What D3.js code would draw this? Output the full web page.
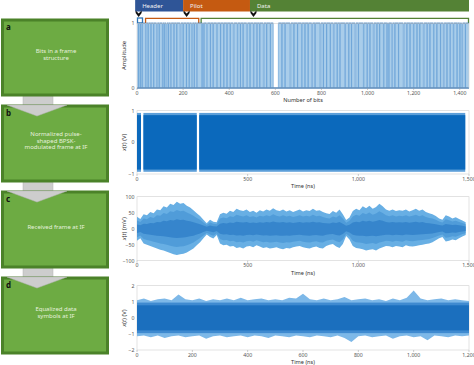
<!DOCTYPE html>
<html><head><meta charset="utf-8">
<script src="https://cdn.jsdelivr.net/npm/d3@7"></script>
<style>body{margin:0;background:#fff}svg{display:block;font-family:"Noto Sans",sans-serif}</style>
</head><body>
<script>
// ---------- DATA ----------
const stepLetters = ["a","b","c","d"];
const stepTexts = [["Bits in a frame","structure"],["Normalized pulse-","shaped BPSK-","modulated frame at IF"],["Received frame at IF"],["Equalized data","symbols at IF"]];

const bannerLabels = ["Header","Pilot","Data"];
const bannerBits = [-8, 200, 490, 1440];      // banner boundaries in bit units
const bracketBits = [[0,26],[35,270],[276,1440]];

const nBits = 1440;
const aWhiteRuns = [[37,3],[85,3],[110,2],[126,3],[146,2],[187,3],[237,3],[259,2],[302,3],[346,2],[418,3],[435,2],[476,3],[505,2],[548,3],[591,22],[664,3],[714,2],[758,3],[794,3],[852,3],[902,2],[946,3],[982,2],[1025,3],[1069,2],[1105,3],[1155,3],[1199,2],[1242,3],[1286,2],[1329,3],[1372,2],[1409,3]];
const aSingleZeros = [6,14,22,48,60,72,96,118,136,160,172,200,214,226,248,282,290,318,330,362,376,390,404,448,460,490,520,532,562,578,628,642,680,696,728,742,772,808,822,838,868,880,918,930,960,998,1010,1040,1052,1084,1092,1118,1134,1170,1184,1214,1226,1258,1270,1300,1316,1344,1358,1388,1400,1424];
const aTicks = [0,200,400,600,800,1000,1200,1400];

const bSegments = [[0,18],[29,270],[281,1483]];
const bCore = 0.86, bPeak = 0.93;
const bTicks = [0,500,1000,1500];

const cTime  = d3.range(0,1486,15);
const cUpper = [37,30,45,42,52,48,60,58,70,66, 78,74,84,78,80,72,66,58,48,40, 28,17,28,22,20,45,50,47,56,52, 62,58,55,60,52,56,50,58,54,60,
                56,64,58,55,60,54,58,52,56,60, 54,58,55,62,56,58,52,48,46,55, 50,60,45,27,35,55,62,58,70,64, 72,62,68,78,70,60,56,60,55,58,
                56,60,54,58,62,56,60,52,48,45, 40,32,28,42,38,32,36,30,26,20];
const cLower = [-38,-30,-46,-50,-54,-58,-62,-66,-68,-72, -76,-80,-82,-80,-78,-74,-68,-62,-52,-42, -30,-18,-26,-31,-20,-46,-52,-50,-56,-54,
                -60,-58,-62,-56,-54,-58,-52,-56,-60,-58, -62,-60,-58,-62,-64,-60,-62,-58,-56,-54, -58,-60,-62,-58,-56,-60,-62,-54,-50,-48,
                -56,-60,-48,-23,-34,-54,-60,-62,-64,-68, -66,-64,-68,-62,-58,-54,-55,-58,-54,-56, -58,-52,-55,-56,-54,-52,-50,-48,-46,-42,
                -36,-30,-26,-40,-38,-34,-36,-30,-24,-20];
const cTicksY = [-100,-50,0,50,100];

const dTime = d3.range(0,1201,25);
const dUpper = [1.1,1.2,1.05,1.15,1.2,1.1,1.45,1.15,1.1,1.2,1.05,1.15,1.1,1.2,1.1,1.25,1.1,1.15,1.2,1.1,1.15,1.1,1.25,1.2,1.5,1.15,1.1,1.2,1.1,1.15,1.3,1.1,1.15,1.2,1.1,1.15,1.05,1.2,1.1,1.25,1.7,1.2,1.1,1.15,1.2,1.1,1.15,1.1,1.05];
const dLower = [-1.15,-1.1,-1.2,-1.1,-1.25,-1.15,-1.1,-1.2,-1.15,-1.1,-1.3,-1.15,-1.1,-1.2,-1.15,-1.1,-1.2,-1.1,-1.15,-1.25,-1.1,-1.15,-1.2,-1.1,-1.15,-1.2,-1.1,-1.15,-1.2,-1.1,-1.25,-1.5,-1.15,-1.1,-1.2,-1.15,-1.1,-1.3,-1.15,-1.1,-1.2,-1.15,-1.4,-1.1,-1.15,-1.2,-1.1,-1.15,-1.1];
const dCore = 0.78, dMid = 0.95;
const dTicksX = [0,200,400,600,800,1000,1200];
const dTicksY = [-2,-1,0,1,2];

// ---------- LAYOUT ----------
const W=474,H=365, X0=137, X1=469;
const svg = d3.select("body").append("svg").attr("width",W).attr("height",H);
const fmt = d3.format(",");
const tickCol="#555", frameCol="#d0d0d0";

// left process boxes
const boxTops=[20,106,192,278], boxH=75;
boxTops.forEach((t,i)=>{
  if(i>0){
    const pb = boxTops[i-1]+boxH;
    svg.append("rect").attr("x",23).attr("y",pb).attr("width",30).attr("height",t-pb+1).attr("fill","#cdcdcd").attr("stroke","#b5b5b5").attr("stroke-width",0.5);
  }
});
boxTops.forEach((t,i)=>{
  svg.append("rect").attr("x",2.5).attr("y",t).attr("width",105).attr("height",boxH)
    .attr("fill","#6dab43").attr("stroke","#4b8229").attr("stroke-width",3);
  if(i>0){
    svg.append("path").attr("d",`M7,${t-1}L67,${t-1}L37,${t+10}Z`).attr("fill","#cdcdcd").attr("stroke","#b5b5b5").attr("stroke-width",0.5);
  }
  svg.append("text").attr("x",6).attr("y",t+10).attr("font-size",8).attr("font-weight","bold").attr("fill","#111").text(stepLetters[i]);
  const lines = stepTexts[i], lh=6.8, cy=t+boxH/2-3;
  lines.forEach((s,j)=>{
    svg.append("text").attr("x",56).attr("y",cy+(j-(lines.length-1)/2)*lh+2).attr("text-anchor","middle")
      .attr("font-size",6).attr("fill","#e6f1de").text(s);
  });
});

function yLabel(y, parts){
  const t = svg.append("text").attr("transform",`translate(126,${y}) rotate(-90)`).attr("text-anchor","middle").attr("font-size",6).attr("fill","#333");
  parts.forEach(p=>t.append("tspan").attr("font-style",p[1]?"italic":"normal").text(p[0]));
}
function axes(x, y, xt, yt, yTop, yBot, xlab){
  svg.append("rect").attr("x",X0).attr("y",yTop).attr("width",X1-X0).attr("height",yBot-yTop).attr("fill","none").attr("stroke",frameCol).attr("stroke-width",0.6);
  xt.forEach(v=>{
    svg.append("line").attr("x1",x(v)).attr("x2",x(v)).attr("y1",yBot).attr("y2",yBot+2).attr("stroke","#999").attr("stroke-width",0.5);
    svg.append("text").attr("x",x(v)).attr("y",yBot+6.6).attr("text-anchor","middle").attr("font-size",5.2).attr("fill",tickCol).text(fmt(v));
  });
  yt.forEach(v=>{
    svg.append("text").attr("x",134.5).attr("y",y(v)+2).attr("text-anchor","end").attr("font-size",5.2).attr("fill",tickCol).text(d3.format("")(v).replace("-","\u2212"));
  });
  svg.append("text").attr("x",(X0+X1)/2).attr("y",yBot+13.8).attr("text-anchor","middle").attr("font-size",5.6).attr("fill","#333").text(xlab);
}

// ---------- PANEL A ----------
const xa = d3.scaleLinear().domain([0,nBits]).range([X0,X1]);
const ya = d3.scaleLinear().domain([0,1]).range([88,23.3]);
const bits = new Array(nBits).fill(1);
aWhiteRuns.forEach(([s,l])=>{for(let k=s;k<s+l&&k<nBits;k++)bits[k]=0;});
aSingleZeros.forEach(p=>{bits[p]=0;});
const runs=[]; {let s=0; for(let k=1;k<=nBits;k++){ if(k===nBits||bits[k]!==bits[s]){runs.push({v:bits[s],s,e:k}); s=k;} }}
// banner
bannerLabels.forEach((lab,i)=>{
  const cols=["#2f5597","#c55a11","#548235"];
  const x0=xa(bannerBits[i]), x1=Math.min(xa(bannerBits[i+1]),X1);
  svg.append("rect").attr("x",x0).attr("y",0).attr("width",x1-x0).attr("height",11.5).attr("fill",cols[i]);
  svg.append("text").attr("x",x0+7).attr("y",8).attr("font-size",6).attr("fill","#f2f2f2").text(lab);
  const ax=x0+3.5;
  svg.append("path").attr("d",`M${ax-3},10.5L${ax},13.5L${ax+3},10.5L${ax+3},13L${ax},17L${ax-3},13Z`).attr("fill","#111");
});
const bCols=["#2e75b6","#c55a11","#548235"];
bracketBits.forEach(([s,e],i)=>{
  const x0=xa(s)+0.5,x1=xa(e)-0.5;
  if(i===0) svg.append("rect").attr("x",x0).attr("y",18).attr("width",x1-x0).attr("height",5).attr("fill","#fff").attr("stroke",bCols[i]).attr("stroke-width",1.3);
  else svg.append("path").attr("d",`M${x0},23.3V18.3H${x1}V23.3`).attr("fill","none").attr("stroke",bCols[i]).attr("stroke-width",1.3);
});
runs.filter(r=>r.v===1).forEach(r=>{
  svg.append("rect").attr("x",xa(r.s)).attr("y",ya(1)).attr("width",xa(r.e)-xa(r.s)).attr("height",ya(0)-ya(1)).attr("fill","#a9cdea");
});
runs.forEach((r,i)=>{ if(i>0) svg.append("line").attr("x1",xa(r.s)).attr("x2",xa(r.s)).attr("y1",ya(0)).attr("y2",ya(1)).attr("stroke","#4a8fcf").attr("stroke-width",0.5); });
runs.filter(r=>r.v===1).forEach(r=>{
  svg.append("line").attr("x1",xa(r.s)).attr("x2",xa(r.e)).attr("y1",ya(1)).attr("y2",ya(1)).attr("stroke","#2b6fb3").attr("stroke-width",1.3);
});
svg.append("line").attr("x1",X0).attr("x2",X1).attr("y1",ya(0)).attr("y2",ya(0)).attr("stroke","#2b6fb3").attr("stroke-width",1.3);
axes(xa, ya, aTicks, [0,1], 23.3, 88, "Number of bits");
yLabel(55.5,[["Amplitude",false]]);

// ---------- PANEL B ----------
const xb = d3.scaleLinear().domain([0,1500]).range([X0,X1]);
const yb = d3.scaleLinear().domain([-1,1]).range([174,110.7]);
axes(xb, yb, bTicks, [-1,0,1], 110.7, 174, "Time (ns)");
bSegments.forEach(([s,e])=>{
  svg.append("rect").attr("x",xb(s)).attr("y",yb(bPeak)).attr("width",xb(e)-xb(s)).attr("height",yb(-bPeak)-yb(bPeak)).attr("fill","#5d9fd9");
  svg.append("rect").attr("x",xb(s)).attr("y",yb(bCore)).attr("width",xb(e)-xb(s)).attr("height",yb(-bCore)-yb(bCore)).attr("fill","#0b69bc");
});
yLabel(142.3,[["x",true],["(",false],["t",true],[") (V)",false]]);

// ---------- PANEL C ----------
const xc = d3.scaleLinear().domain([0,1500]).range([X0,X1]);
const yc = d3.scaleLinear().domain([-100,100]).range([260.7,196.7]);
axes(xc, yc, bTicks, cTicksY, 196.7, 260.7, "Time (ns)");
const cData = cTime.map((t,i)=>({t,u:cUpper[i],l:cLower[i]}));
svg.append("path").datum(cData).attr("d",d3.area().x(d=>xc(d.t)).y0(d=>yc(d.l)).y1(d=>yc(d.u))).attr("fill","#68afe4");
svg.append("path").datum(cData).attr("d",d3.area().x(d=>xc(d.t)).y0(d=>yc(d.l*0.7)).y1(d=>yc(d.u*0.7))).attr("fill","#4a97d6").attr("opacity",0.8);
svg.append("path").datum(cData).attr("d",d3.area().x(d=>xc(d.t)).y0(d=>yc(d.l*0.35)).y1(d=>yc(d.u*0.35))).attr("fill","#2f80c8").attr("opacity",0.8);
yLabel(228.7,[["x",true],["(",false],["t",true],[") (mV)",false]]);

// ---------- PANEL D ----------
const xd = d3.scaleLinear().domain([0,1200]).range([X0,X1]);
const yd = d3.scaleLinear().domain([-2,2]).range([350,285.7]);
axes(xd, yd, dTicksX, dTicksY, 285.7, 350, "Time (ns)");
const dData = dTime.map((t,i)=>({t,u:dUpper[i],l:dLower[i]}));
svg.append("path").datum(dData).attr("d",d3.area().x(d=>xd(d.t)).y0(d=>yd(d.l)).y1(d=>yd(d.u))).attr("fill","#7db8e8");
svg.append("rect").attr("x",xd(0)).attr("y",yd(dMid)).attr("width",xd(1200)-xd(0)).attr("height",yd(-dMid)-yd(dMid)).attr("fill","#3f8ad0");
svg.append("rect").attr("x",xd(0)).attr("y",yd(dCore)).attr("width",xd(1200)-xd(0)).attr("height",yd(-dCore)-yd(dCore)).attr("fill","#1b6fbe");
yLabel(318,[["x",true],["(",false],["t",true],[") (V)",false]]);
</script>
</body></html>
